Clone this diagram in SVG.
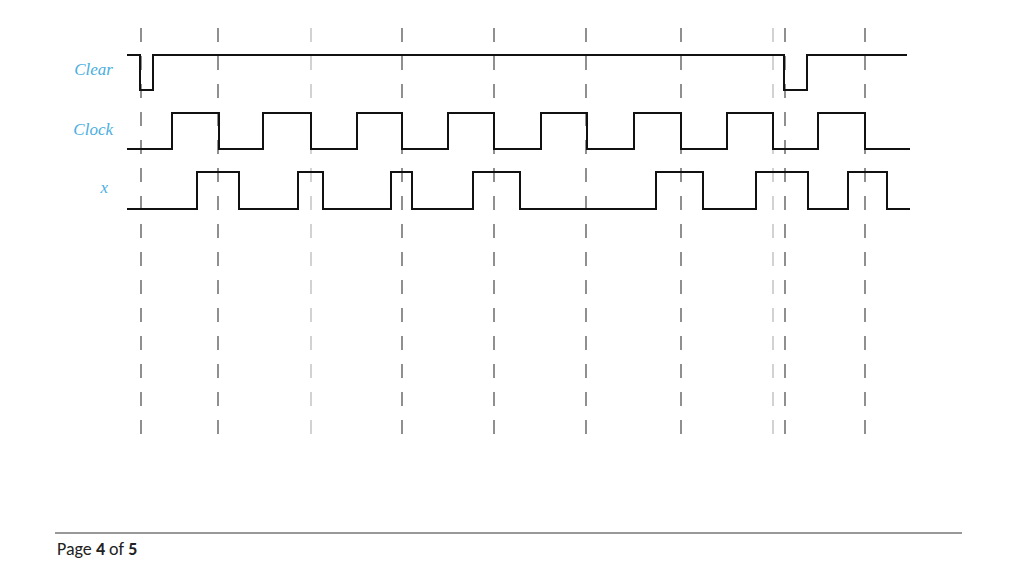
<svg xmlns="http://www.w3.org/2000/svg" width="1018" height="585" viewBox="0 0 1018 585">
<style>
.lbl{font-family:"Liberation Serif",serif;font-style:italic;font-size:17px;fill:#4aaee0;text-anchor:end}
.sig{fill:none;stroke:#111;stroke-width:2}
.dash{stroke:#555;stroke-width:1.3;stroke-dasharray:14 14}
.dl{stroke:#bbb}
</style>
<rect width="1018" height="585" fill="#fff"/>
<g id="guides">
<line class="dash" x1="141" y1="28" x2="141" y2="447"/>
<line class="dash" x1="218" y1="28" x2="218" y2="447"/>
<line class="dash dl" x1="311" y1="28" x2="311" y2="447"/>
<line class="dash" x1="402" y1="28" x2="402" y2="447"/>
<line class="dash" x1="494" y1="28" x2="494" y2="447"/>
<line class="dash" x1="586" y1="28" x2="586" y2="447"/>
<line class="dash" x1="681" y1="28" x2="681" y2="447"/>
<line class="dash dl" x1="773" y1="28" x2="773" y2="447"/>
<line class="dash" x1="785" y1="28" x2="785" y2="447"/>
<line class="dash" x1="865" y1="28" x2="865" y2="447"/>
</g>
<g id="clear">
<text class="lbl" x="113" y="75">Clear</text>
<polyline class="sig" points="127,55 140,55 140,90 153,90 153,55 784,55 784,90 807,90 807,55 907,55"/>
</g>
<g id="clock">
<text class="lbl" x="113" y="135">Clock</text>
<polyline class="sig" points="127,149 172,149 172,113 219,113 219,149 263,149 263,113 311,113 311,149 357,149 357,113 402,113 402,149 448,149 448,113 494,113 494,149 541,149 541,113 587,113 587,149 634,149 634,113 681,113 681,149 727,149 727,113 773,113 773,149 818,149 818,113 865,113 865,149 910,149"/>
</g>
<g id="x">
<text class="lbl" x="108" y="193">x</text>
<polyline class="sig" points="127,209 197,209 197,172 239,172 239,209 298,209 298,172 323,172 323,209 391,209 391,172 412,172 412,209 473,209 473,172 520,172 520,209 656,209 656,172 703,172 703,209 756,209 756,172 808,172 808,209 848,209 848,172 887,172 887,209 910,209"/>
</g>
<g id="footer">
<line x1="55" y1="533" x2="962" y2="533" stroke="#333" stroke-width="1"/>
<text x="57" y="555" font-family="Carlito,'Liberation Sans',sans-serif" font-size="18" fill="#222">Page <tspan font-weight="bold">4</tspan> of <tspan font-weight="bold">5</tspan></text>
</g>
</svg>
